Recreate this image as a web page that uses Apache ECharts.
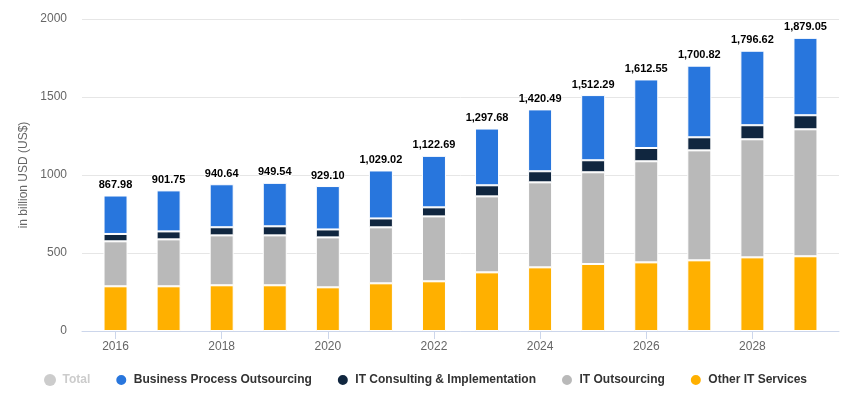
<!DOCTYPE html>
<html>
<head>
<meta charset="utf-8">
<script src="https://cdn.jsdelivr.net/npm/echarts@6/dist/echarts.min.js"></script>
<style>
html,body{margin:0;padding:0;background:#fff;}
#chart{width:852px;height:403px;}
</style>
</head>
<body>
<div id="chart"></div>
<script>
var years = ['2016','2017','2018','2019','2020','2021','2022','2023','2024','2025','2026','2027','2028','2029'];
var totals = [867.98, 901.75, 940.64, 949.54, 929.10, 1029.02, 1122.69, 1297.68, 1420.49, 1512.29, 1612.55, 1700.82, 1796.62, 1879.05];
var otherIT = [286.5, 286.5, 293, 293, 280, 305.6, 318.6, 376, 408, 429.5, 440, 453, 472, 479];
var itOutsourcing = [288.5, 301, 320, 320, 320, 359, 416, 487, 545, 588, 648, 705, 757, 814];
var itConsulting = [47, 51, 52, 58, 51, 57, 58, 71, 71, 77, 85, 83.6, 90, 90];
var bpo = [246.48, 262.75, 275.64, 278.54, 278.1, 307.42, 330.09, 363.68, 396.49, 417.79, 439.55, 459.22, 477.62, 496.05];
var yTicks = [0, 500, 1000, 1500, 2000];

var FONT = '"Liberation Sans", Arial, sans-serif';
var chart = echarts.init(document.getElementById('chart'), null, {renderer: 'canvas'});

function fmt(v) {
  return v.toLocaleString('en-US', {minimumFractionDigits: 2, maximumFractionDigits: 2});
}

var option = {
  backgroundColor: '#fff',
  animation: false,
  textStyle: {fontFamily: FONT},
  grid: [
    {left: 82, right: 13, top: 19, bottom: 72},
    {left: 89, right: 20, top: 19, bottom: 72}
  ],
  legend: {
    left: 39,
    top: 368,
    itemWidth: 15,
    itemHeight: 12,
    itemGap: 24,
    icon: 'circle',
    inactiveColor: '#cccccc',
    textStyle: {fontSize: 12, fontWeight: 'bold', color: '#333333', fontFamily: FONT},
    data: ['Total', 'Business Process Outsourcing', 'IT Consulting & Implementation', 'IT Outsourcing', 'Other IT Services'],
    selected: {'Total': false}
  },
  xAxis: [
    {
      gridIndex: 0, type: 'value', min: 0, max: 1,
      axisLine: {show: true, onZero: false, lineStyle: {color: '#ccd6eb', width: 1}},
      axisTick: {show: false}, axisLabel: {show: false}, splitLine: {show: false}
    },
    {
      gridIndex: 1, type: 'category', data: years,
      axisLine: {show: false},
      axisTick: {show: true, alignWithLabel: true, interval: 1, length: 8, lineStyle: {color: '#ccd6eb'}},
      axisLabel: {interval: 1, color: '#666666', fontSize: 12, margin: 10, fontFamily: FONT}
    }
  ],
  yAxis: [
    {
      gridIndex: 0, type: 'value', min: yTicks[0], max: yTicks[yTicks.length - 1], interval: 500,
      name: 'in billion USD (US$)', nameLocation: 'middle', nameGap: 44,
      nameTextStyle: {color: '#666666', fontSize: 12, fontFamily: FONT},
      axisLine: {show: false}, axisTick: {show: false},
      axisLabel: {color: '#666666', fontSize: 12, margin: 15, fontFamily: FONT,
                  formatter: function (v) { return String(v); }},
      splitLine: {lineStyle: {color: '#e6e6e6', width: 1}}
    },
    {
      gridIndex: 1, type: 'value', min: yTicks[0], max: yTicks[yTicks.length - 1], interval: 500,
      show: false, splitLine: {show: false}
    }
  ],
  series: [
    {name: 'Other IT Services', type: 'bar', stack: 'a', xAxisIndex: 1, yAxisIndex: 1, barWidth: 24,
     itemStyle: {color: '#ffb000', borderColor: '#fff', borderWidth: 1}, data: otherIT},
    {name: 'IT Outsourcing', type: 'bar', stack: 'a', xAxisIndex: 1, yAxisIndex: 1, barWidth: 24,
     itemStyle: {color: '#b9b9b9', borderColor: '#fff', borderWidth: 1}, data: itOutsourcing},
    {name: 'IT Consulting & Implementation', type: 'bar', stack: 'a', xAxisIndex: 1, yAxisIndex: 1, barWidth: 24,
     itemStyle: {color: '#10263f', borderColor: '#fff', borderWidth: 1}, data: itConsulting},
    {name: 'Business Process Outsourcing', type: 'bar', stack: 'a', xAxisIndex: 1, yAxisIndex: 1, barWidth: 24,
     itemStyle: {color: '#2876dd', borderColor: '#fff', borderWidth: 1}, data: bpo,
     label: {show: true, position: 'top', distance: 5, fontSize: 11, fontWeight: 'bold', color: '#000',
             textBorderColor: '#fff', textBorderWidth: 2, fontFamily: FONT,
             formatter: function (p) { return fmt(totals[p.dataIndex]); }}},
    {name: 'Total', type: 'bar', stack: 'a', xAxisIndex: 1, yAxisIndex: 1, barWidth: 24,
     itemStyle: {color: '#cccccc'}, data: totals}
  ]
};
chart.setOption(option);
</script>
</body>
</html>
